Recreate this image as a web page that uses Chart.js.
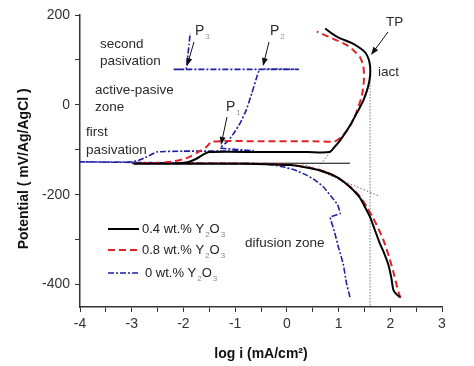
<!DOCTYPE html>
<html>
<head>
<meta charset="utf-8">
<script src="https://cdn.jsdelivr.net/npm/chart.js@4.4.0/dist/chart.umd.min.js"></script>
<style>
    html, body { margin: 0; padding: 0; background: #fff; }
</style>
</head>
<body>
<canvas id="polarization" width="474" height="366"></canvas>
<script>
/* Data (log i in mA/cm2, potential in mV vs Ag/AgCl) */
const logI_04 = [2.19, 2.12, 2.06, 2.02, 1.96, 1.88, 1.80, 1.70, 1.61, 1.50, 1.40, 1.22, 0.95, 0.64, 0.30, 0.06, -0.40, -1.20, -2.00, -2.95, -2.40, -2.10, -1.90, -1.75, -1.62, -1.50, -0.50, 0.40, 0.82, 0.92, 1.03, 1.20, 1.35, 1.48, 1.57, 1.61, 1.61, 1.58, 1.52, 1.42, 1.25, 1.03, 0.88, 0.74];
const E_04 = [-428, -422, -412, -385, -355, -330, -309, -278, -250, -225, -205, -183, -160, -146, -138, -134, -132, -131, -131, -131, -131, -130, -127, -120, -111, -105, -105, -105, -105, -94, -79, -50, -19, 10, 40, 65, 85, 102, 116, 126, 138, 148, 158, 170];

const logI_08 = [2.20, 2.16, 2.12, 2.06, 1.98, 1.88, 1.78, 1.66, 1.55, 1.42, 1.22, 0.95, 0.64, 0.30, 0.00, -0.60, -1.50, -2.94, -2.50, -2.20, -1.90, -1.70, -1.55, -1.45, -0.50, 0.50, 0.93, 1.08, 1.22, 1.35, 1.45, 1.49, 1.48, 1.42, 1.30, 1.16, 0.98, 0.80, 0.58];
const E_08 = [-430, -418, -400, -372, -340, -305, -278, -250, -228, -205, -182, -160, -145, -137, -133, -131, -130, -130, -129, -126, -117, -104, -93, -82, -81, -81, -81, -68, -48, -15, 20, 55, 85, 105, 120, 133, 143, 152, 163];

const logI_0 = [1.22, 1.15, 1.09, 1.00, 0.92, 0.84, 1.03, 0.98, 0.85, 0.71, 0.55, 0.39, 0.15, -0.07, -0.30, -0.58, -1.50, -2.50, -3.00, -4.00, -3.00, -2.85, -2.71, -2.52, -2.00, -1.30, -0.65, -1.29, -1.15, -1.03, -0.90, -0.78, -0.68, -0.60, -0.52, 0.22, -2.20, -1.95, -1.92, -1.89, -1.87];
const E_0 = [-428, -395, -354, -318, -282, -250, -242, -222, -203, -183, -168, -157, -145, -138, -133, -131, -130, -129, -128, -127, -127, -123, -116, -105, -103, -103, -102, -96, -82, -64, -40, -10, 25, 55, 79, 79, 79, 80, 105, 135, 160];

/* Construction lines */
const ecorrLogI = [-3.0, 1.22];
const ecorrE = [-130, -130];
const anodicTafelLogI = [0.84, 0.62];
const anodicTafelE = [-105, -137];
const cathodicTafelLogI = [0.30, 1.78];
const cathodicTafelE = [-131, -203];
const iactLogI = [1.61, 1.61];
const iactE = [70, -450];

const xTickValues = [-4, -3.5, -3, -2.5, -2, -1.5, -1, -0.5, 0, 0.5, 1, 1.5, 2, 2.5, 3];
const yTickValues = [-400, -300, -200, -100, 0, 100, 200];

function toPoints(xs, ys) {
    return xs.map((x, i) => ({ x: x, y: ys[i] }));
}

const FONT = '"Liberation Sans", Arial, sans-serif';
const BLACK = '#000000';
const RED = '#dc2327';
const BLUE = '#1f1fa3';
const GREY = '#6a6a6a';

const notes = [
    { text: 'second', x: 100, y: 44 },
    { text: 'pasivation', x: 100, y: 61 },
    { text: 'active-pasive', x: 95, y: 90 },
    { text: 'zone', x: 95, y: 107 },
    { text: 'first', x: 86, y: 132 },
    { text: 'pasivation', x: 86, y: 150 },
    { text: 'difusion zone', x: 245, y: 243 },
    { text: 'iact', x: 378, y: 72 },
    { text: 'TP', x: 386, y: 22 }
];

const peaks = [
    { label: 'P', sub: '3', x: 195, y: 31 },
    { label: 'P', sub: '2', x: 270, y: 31 },
    { label: 'P', sub: '1', x: 226, y: 107 }
];

const arrows = [
    { x1: 194, y1: 42, x2: 187, y2: 66 },
    { x1: 269, y1: 42, x2: 263, y2: 66 },
    { x1: 227, y1: 117, x2: 221, y2: 145 },
    { x1: 388, y1: 32, x2: 371, y2: 55 }
];

const legendItems = [
    { name: '0.4 wt.% Y', color: BLACK, dash: [], width: 2, y: 229, tx: 142 },
    { name: '0.8 wt.% Y', color: RED, dash: [7, 4], width: 2, y: 250, tx: 142 },
    { name: '0 wt.% Y', color: BLUE, dash: [6, 2, 2, 2], width: 1.6, y: 273, tx: 145 }
];

function drawArrow(ctx, a) {
    const ang = Math.atan2(a.y2 - a.y1, a.x2 - a.x1);
    ctx.beginPath();
    ctx.moveTo(a.x1, a.y1);
    ctx.lineTo(a.x2 - 6 * Math.cos(ang), a.y2 - 6 * Math.sin(ang));
    ctx.stroke();
    ctx.beginPath();
    ctx.moveTo(a.x2, a.y2);
    ctx.lineTo(a.x2 - 8 * Math.cos(ang) + 3 * Math.sin(ang), a.y2 - 8 * Math.sin(ang) - 3 * Math.cos(ang));
    ctx.lineTo(a.x2 - 8 * Math.cos(ang) - 3 * Math.sin(ang), a.y2 - 8 * Math.sin(ang) + 3 * Math.cos(ang));
    ctx.closePath();
    ctx.fill();
}

function drawY2O3(ctx, name, x, y) {
    ctx.font = '13px ' + FONT;
    ctx.fillStyle = '#222';
    ctx.fillText(name, x, y);
    x += ctx.measureText(name).width;
    ctx.font = '8px ' + FONT;
    ctx.fillStyle = '#888';
    ctx.fillText('2', x + 1, y + 6);
    x += ctx.measureText('2').width + 1;
    ctx.font = '13px ' + FONT;
    ctx.fillStyle = '#222';
    ctx.fillText('O', x, y);
    x += ctx.measureText('O').width;
    ctx.font = '8px ' + FONT;
    ctx.fillStyle = '#888';
    ctx.fillText('3', x + 1, y + 6);
}

const annotationPlugin = {
    id: 'annotationPlugin',
    afterDraw(chart) {
        const ctx = chart.ctx;
        ctx.save();
        ctx.textBaseline = 'middle';
        ctx.textAlign = 'left';

        ctx.font = '13.5px ' + FONT;
        ctx.fillStyle = '#2a2a2a';
        notes.forEach(n => ctx.fillText(n.text, n.x, n.y));

        peaks.forEach(p => {
            ctx.font = '14px ' + FONT;
            ctx.fillStyle = '#2a2a2a';
            ctx.fillText(p.label, p.x, p.y);
            const w = ctx.measureText(p.label).width;
            ctx.font = '8px ' + FONT;
            ctx.fillStyle = '#999';
            ctx.fillText(p.sub, p.x + w + 1, p.y + 6);
        });

        ctx.strokeStyle = '#111';
        ctx.fillStyle = '#111';
        ctx.lineWidth = 1;
        arrows.forEach(a => drawArrow(ctx, a));

        legendItems.forEach(item => {
            ctx.beginPath();
            ctx.strokeStyle = item.color;
            ctx.lineWidth = item.width;
            ctx.setLineDash(item.dash);
            ctx.moveTo(108, item.y);
            ctx.lineTo(139, item.y);
            ctx.stroke();
            ctx.setLineDash([]);
            drawY2O3(ctx, item.name, item.tx, item.y);
        });
        ctx.restore();
    }
};

function curve(data, color, width, dash, tension) {
    return {
        data: data,
        showLine: true,
        borderColor: color,
        borderWidth: width,
        borderDash: dash,
        pointRadius: 0,
        tension: tension,
        fill: false
    };
}

const datasets = [
    curve(toPoints(logI_04, E_04), BLACK, 2, [], 0.25),
    curve(toPoints(logI_08, E_08), RED, 2, [7, 4], 0.25),
    curve(toPoints(logI_0, E_0), BLUE, 1.6, [6, 2, 2, 2], 0.1),
    curve(toPoints(ecorrLogI, ecorrE), BLACK, 1, [], 0),
    curve(toPoints(anodicTafelLogI, anodicTafelE), GREY, 1, [1.5, 2], 0),
    curve(toPoints(cathodicTafelLogI, cathodicTafelE), GREY, 1, [1.5, 2], 0),
    curve(toPoints(iactLogI, iactE), '#333', 1, [1, 2], 0)
];

const ctx = document.getElementById('polarization').getContext('2d');
const polarizationChart = new Chart(ctx, {
    type: 'scatter',
    data: { datasets: datasets },
    options: {
        responsive: false,
        animation: false,
        layout: { padding: { left: 0, right: 32, top: 15, bottom: 0 } },
        plugins: {
            legend: { display: false },
            tooltip: { enabled: false }
        },
        scales: {
            x: {
                type: 'linear',
                min: -4,
                max: 3,
                afterBuildTicks: (scale) => { scale.ticks = xTickValues.map(v => ({ value: v })); },
                afterFit: (scale) => { scale.height = 59; },
                ticks: {
                    autoSkip: false,
                    maxRotation: 0,
                    padding: 4,
                    color: '#333',
                    font: { family: FONT, size: 14 },
                    callback: (v) => Number.isInteger(v) ? String(v) : ''
                },
                grid: { drawOnChartArea: false, tickLength: 5, tickColor: '#333' },
                border: { color: '#333', width: 1.5 },
                title: {
                    display: true,
                    text: 'log i (mA/cm²)',
                    color: '#111',
                    font: { family: FONT, size: 14, weight: 'bold' },
                    padding: { top: 0, bottom: 3 }
                }
            },
            y: {
                type: 'linear',
                min: -450,
                max: 200,
                afterBuildTicks: (scale) => { scale.ticks = yTickValues.map(v => ({ value: v })); },
                afterFit: (scale) => { scale.width = 80; },
                ticks: {
                    padding: 5,
                    color: '#333',
                    font: { family: FONT, size: 14 },
                    callback: (v) => (v % 200 === 0) ? String(v) : ''
                },
                grid: { drawOnChartArea: false, tickLength: 5, tickColor: '#333' },
                border: { color: '#333', width: 1.5 },
                title: {
                    display: true,
                    text: 'Potential ( mV/Ag/AgCl )    ',
                    color: '#111',
                    font: { family: FONT, size: 14, weight: 'bold' },
                    padding: { top: 16, bottom: 0 }
                }
            }
        }
    },
    plugins: [annotationPlugin]
});
</script>
</body>
</html>
